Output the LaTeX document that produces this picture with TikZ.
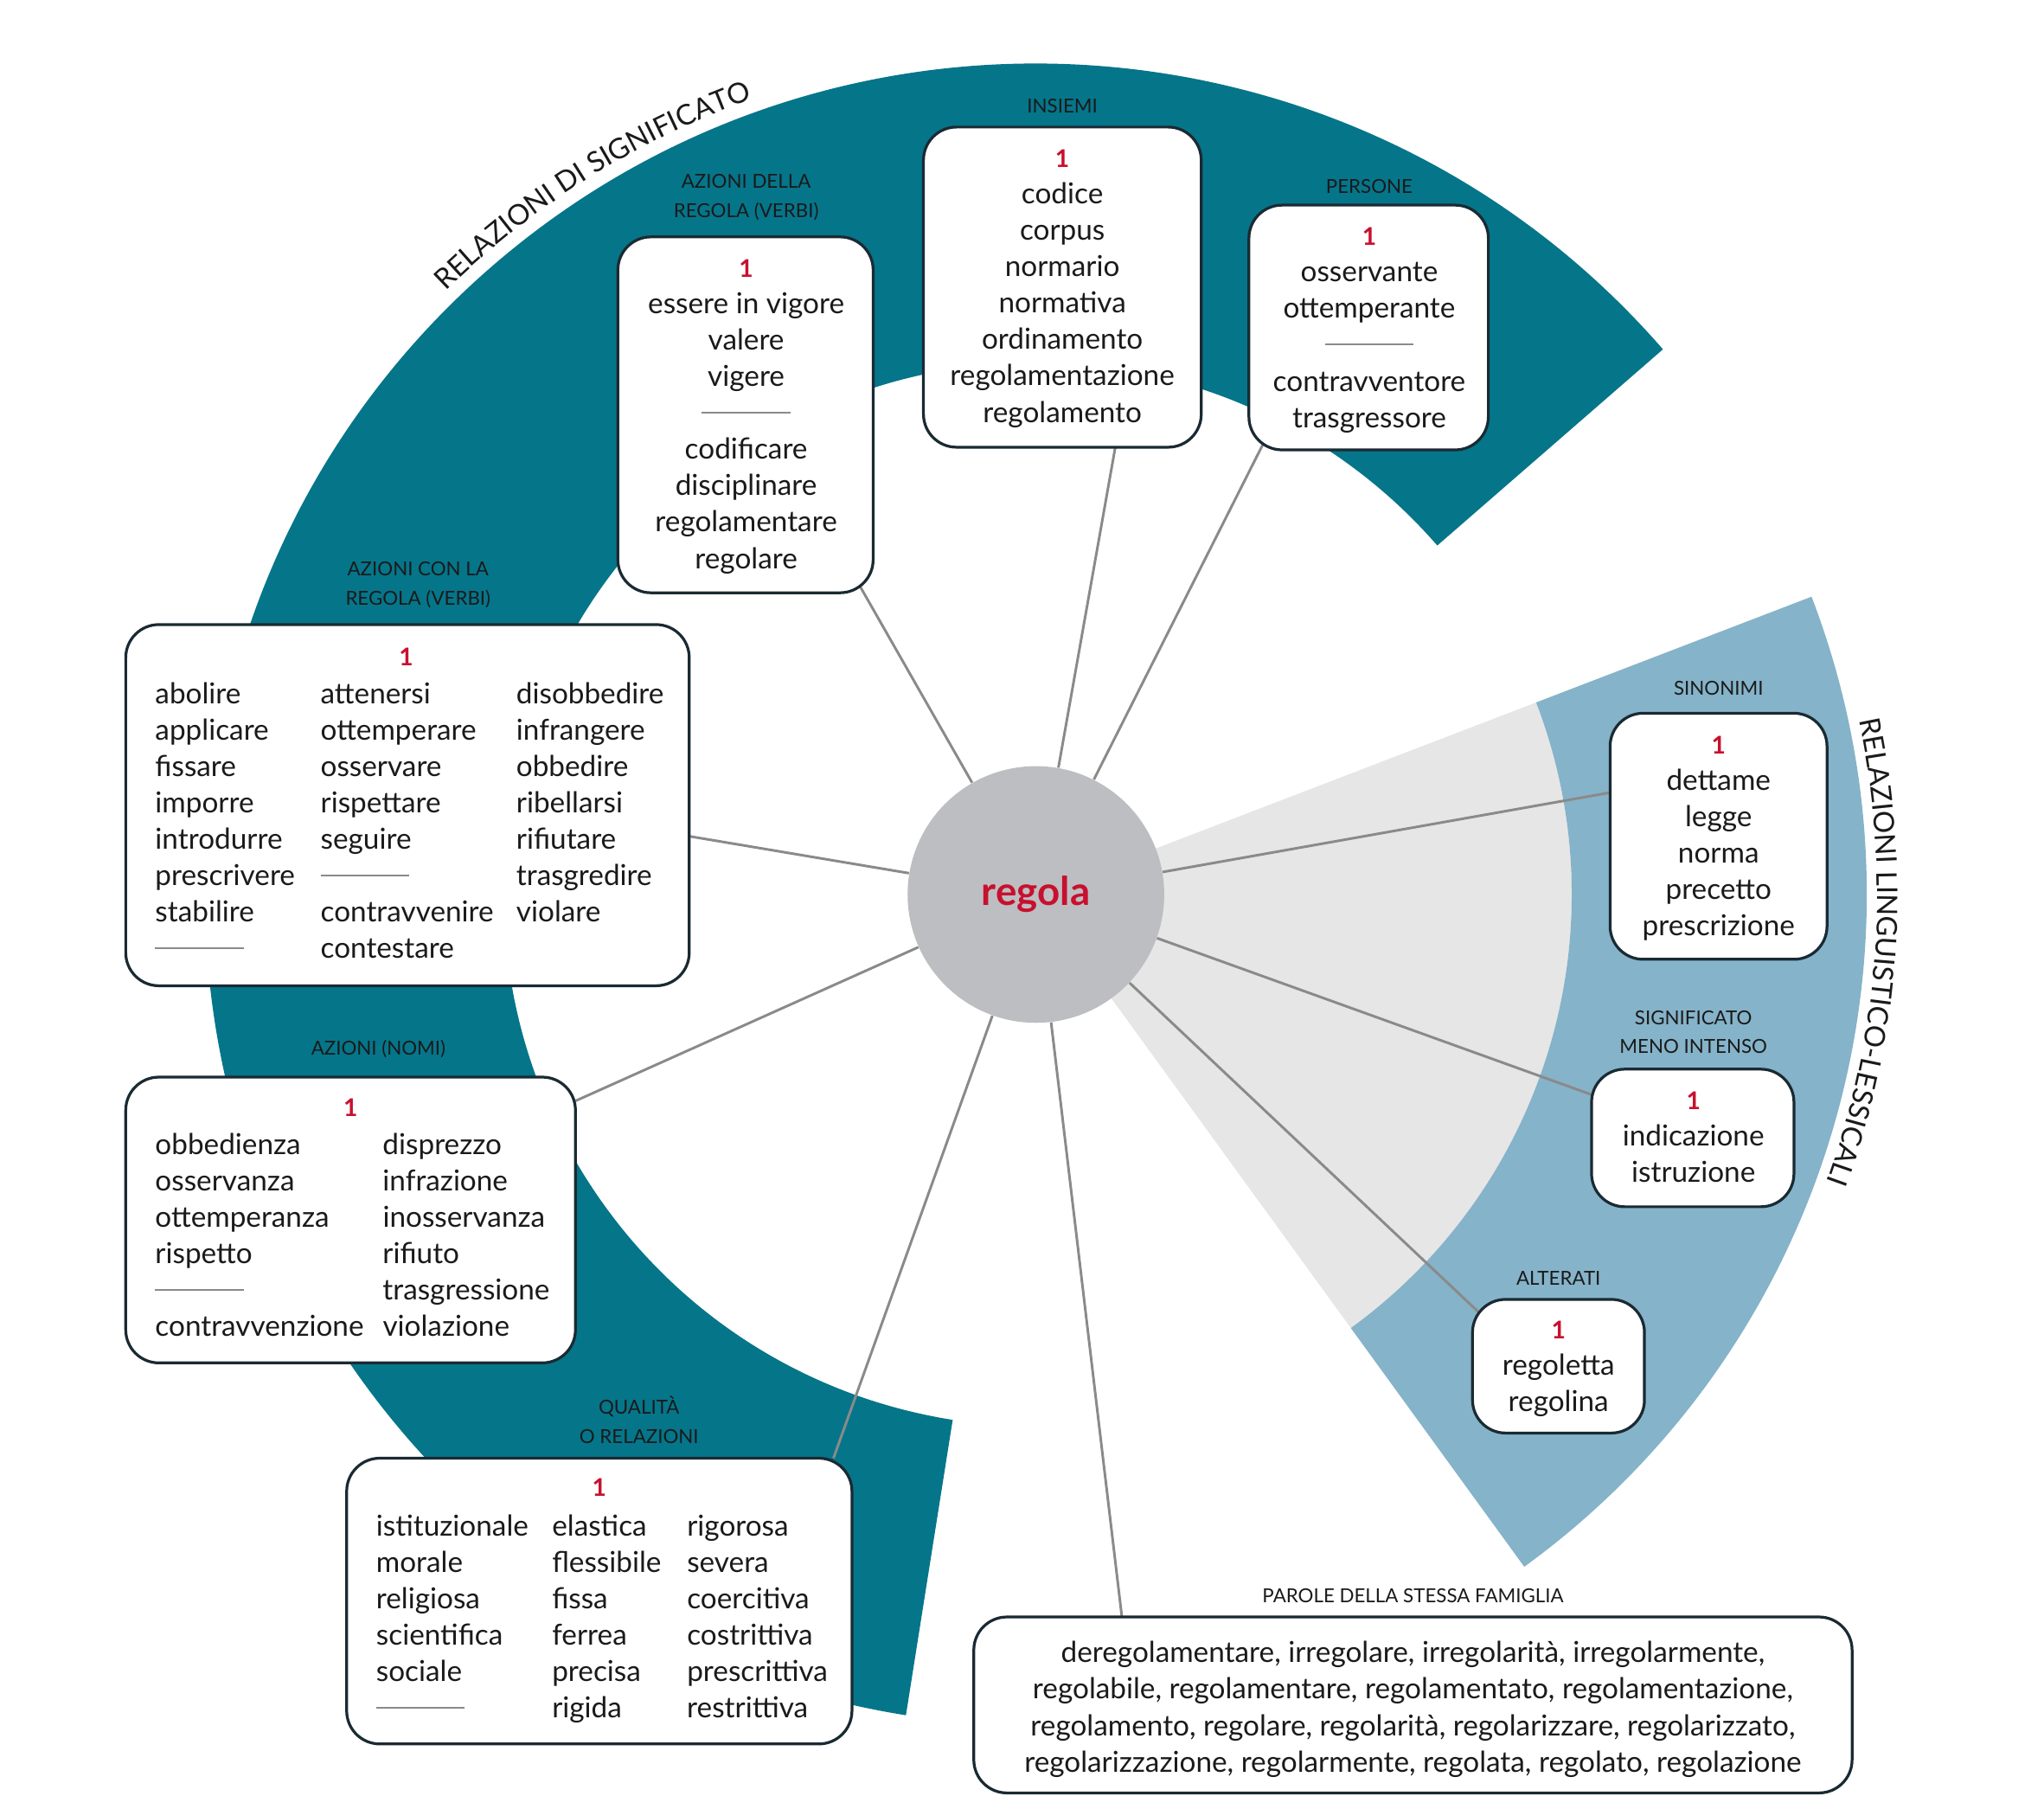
\documentclass[tikz,border=0pt]{standalone}
\usepackage{fontspec}
\setmainfont{Lato}
\usetikzlibrary{calc,decorations.text}
\definecolor{tealc}{HTML}{05758A}
\definecolor{lblue}{HTML}{85B3C9}
\definecolor{lgrey}{HTML}{E6E6E6}
\definecolor{circ}{HTML}{BDBEC2}
\definecolor{redc}{HTML}{C8102E}
\definecolor{linec}{HTML}{8A8A8A}
\definecolor{boxc}{HTML}{1A2A33}
\definecolor{txt}{HTML}{1A1A1A}
\newcommand\rul{\textcolor{linec}{\rule[0.32em]{1.34cm}{0.7pt}}}
\newcommand\one{\textcolor{redc}{\bfseries\fontsize{10.5}{15.65}\selectfont 1}}
\begin{document}
\begin{tikzpicture}[x=0.02cm,y=0.02cm,
  box/.style={draw=boxc,line width=1.2pt,rounded corners=0.5cm,fill=white,inner sep=0pt},
  conn/.style={draw=linec,line width=1.1pt},
  lab/.style={font=\fontsize{8.3}{12.5}\selectfont,text=txt,align=center,inner sep=0pt},
  cont/.style={font=\fontsize{12.4}{15.65}\selectfont,text=txt,inner sep=0pt},
  onen/.style={inner sep=0pt,anchor=base}]
\useasboundingbox (0,0) rectangle (1545,-1367);
\coordinate (C) at (783,-676);
% sectors
\fill[tealc] ($(C)+(41:628)$) arc[start angle=41,end angle=261,radius=628] -- ($(C)+(261:402)$) arc[start angle=261,end angle=41,radius=402] -- cycle;
\fill[lgrey] (C) -- ($(C)+(21:405)$) arc[start angle=21,end angle=-54,radius=405] -- cycle;
\fill[lblue] ($(C)+(21:628)$) arc[start angle=21,end angle=-54,radius=628] -- ($(C)+(-54:405)$) arc[start angle=-54,end angle=21,radius=405] -- cycle;
% arc titles
\path[decorate,decoration={text along path,text align=center,
  text={|\fontsize{12.2}{14}\selectfont\color{txt}|RELAZIONI DI SIGNIFICATO}}]
  ($(C)+(152:638)$) arc[start angle=152,end angle=92,radius=638];
\path[decorate,decoration={text along path,text align=center,
  text={|\fontsize{12.2}{14}\selectfont\color{txt}|RELAZIONI LINGUISTICO-LESSICALI}}]
  ($(C)+(28:636)$) arc[start angle=28,end angle=-36,radius=636];
% centre
\node[circle,fill=circ,minimum size=3.88cm,inner sep=0pt] (reg) at (C)
  {\textcolor{redc}{\bfseries\fontsize{17}{20}\selectfont regola}};
% connector ends
\coordinate (e1) at (843,-338);
\coordinate (e2) at (955,-335);
\coordinate (e3) at (650,-443);
\coordinate (e4) at (521,-632);
\coordinate (e5) at (435,-832);
\coordinate (e6) at (630,-1102);
\coordinate (e7) at (848,-1222);
\coordinate (e8) at (1217,-599);
\coordinate (e9) at (1205,-828);
\coordinate (e10) at (1118,-992);
\foreach \e in {e1,e2,e3,e4,e5,e6,e7,e8,e9,e10} \draw[conn] (reg) -- (\e);
% boxes
\node[box,minimum width=4.2cm,minimum height=4.84cm] (b1) at (803,-217) {};
\node[box,minimum width=3.62cm,minimum height=3.7cm] (b2) at (1034.5,-247.5) {};
\node[box,minimum width=3.86cm,minimum height=5.38cm] (b3) at (563.5,-313.5) {};
\node[box,minimum width=8.52cm,minimum height=5.46cm] (b4) at (308,-608.5) {};
\node[box,minimum width=6.8cm,minimum height=4.32cm] (b5) at (265,-922) {};
\node[box,minimum width=7.64cm,minimum height=4.32cm] (b6) at (453,-1210) {};
\node[box,minimum width=13.28cm,minimum height=2.66cm] (b7) at (1068,-1288.5) {};
\node[box,minimum width=3.28cm,minimum height=3.72cm] (b8) at (1299,-632) {};
\node[box,minimum width=3.06cm,minimum height=2.08cm] (b9) at (1279.5,-860) {};
\node[box,minimum width=2.6cm,minimum height=2.02cm] (b10) at (1178,-1032.5) {};
% labels
\node[lab] (l1) at (803,-80) {INSIEMI};
\node[lab] (l2) at (1035,-141) {PERSONE};
\node[lab] (l3) at (564,-149) {AZIONI DELLA\\REGOLA (VERBI)};
\node[lab] (l4) at (316,-442) {AZIONI CON LA\\REGOLA (VERBI)};
\node[lab] (l5) at (286,-793) {AZIONI (NOMI)};
\node[lab] (l6) at (483,-1073) {QUALITÀ\\O RELAZIONI};
\node[lab] (l7) at (1068,-1206) {PAROLE DELLA STESSA FAMIGLIA};
\node[lab] (l8) at (1299,-520) {SINONIMI};
\node[lab] (l9) at (1280,-780) {SIGNIFICATO\\MENO INTENSO};
\node[lab] (l10) at (1178,-966) {ALTERATI};
% centred contents
\node[cont,anchor=north] (c1) at (803,-107) {\begin{tabular}{@{}c@{}}\one\\codice\\corpus\\normario\\normativa\\ordinamento\\regolamentazione\\regolamento\end{tabular}};
\node[cont,anchor=north] (c2) at (1035,-166) {\begin{tabular}{@{}c@{}}\one\\osservante\\ottemperante\\\rul\\contravventore\\trasgressore\end{tabular}};
\node[cont,anchor=north] (c3) at (564,-190) {\begin{tabular}{@{}c@{}}\one\\essere in vigore\\valere\\vigere\\\rul\\codificare\\disciplinare\\regolamentare\\regolare\end{tabular}};
\node[cont,anchor=north] (c8) at (1299,-550) {\begin{tabular}{@{}c@{}}\one\\dettame\\legge\\norma\\precetto\\prescrizione\end{tabular}};
\node[cont,anchor=north] (c9) at (1280,-819) {\begin{tabular}{@{}c@{}}\one\\indicazione\\istruzione\end{tabular}};
\node[cont,anchor=north] (c10) at (1178,-992) {\begin{tabular}{@{}c@{}}\one\\regoletta\\regolina\end{tabular}};
\node[cont,anchor=north] (c7) at (1068,-1237) {\begin{tabular}{@{}c@{}}deregolamentare, irregolare, irregolarità, irregolarmente,\\regolabile, regolamentare, regolamentato, regolamentazione,\\regolamento, regolare, regolarità, regolarizzare, regolarizzato,\\regolarizzazione, regolarmente, regolata, regolato, regolazione\end{tabular}};
% multi-column contents
\node[onen] (o4) at (307,-503) {\one};
\node[cont,anchor=north west] (c4) at (117,-512) {\begin{tabular}{@{}p{2.5cm}@{}p{2.96cm}@{}l@{}}
abolire & attenersi & disobbedire\\
applicare & ottemperare & infrangere\\
fissare & osservare & obbedire\\
imporre & rispettare & ribellarsi\\
introdurre & seguire & rifiutare\\
prescrivere & \rul & trasgredire\\
stabilire & contravvenire & violare\\
\rul & contestare & \end{tabular}};
\node[onen] (o5) at (265,-844) {\one};
\node[cont,anchor=north west] (c5) at (117,-853) {\begin{tabular}{@{}p{3.44cm}@{}l@{}}
obbedienza & disprezzo\\
osservanza & infrazione\\
ottemperanza & inosservanza\\
rispetto & rifiuto\\
\rul & trasgressione\\
contravvenzione & violazione\end{tabular}};
\node[onen] (o6) at (453,-1131) {\one};
\node[cont,anchor=north west] (c6) at (284,-1141) {\begin{tabular}{@{}p{2.66cm}@{}p{2.04cm}@{}l@{}}
istituzionale & elastica & rigorosa\\
morale & flessibile & severa\\
religiosa & fissa & coercitiva\\
scientifica & ferrea & costrittiva\\
sociale & precisa & prescrittiva\\
\rul & rigida & restrittiva\end{tabular}};
\end{tikzpicture}
\end{document}
